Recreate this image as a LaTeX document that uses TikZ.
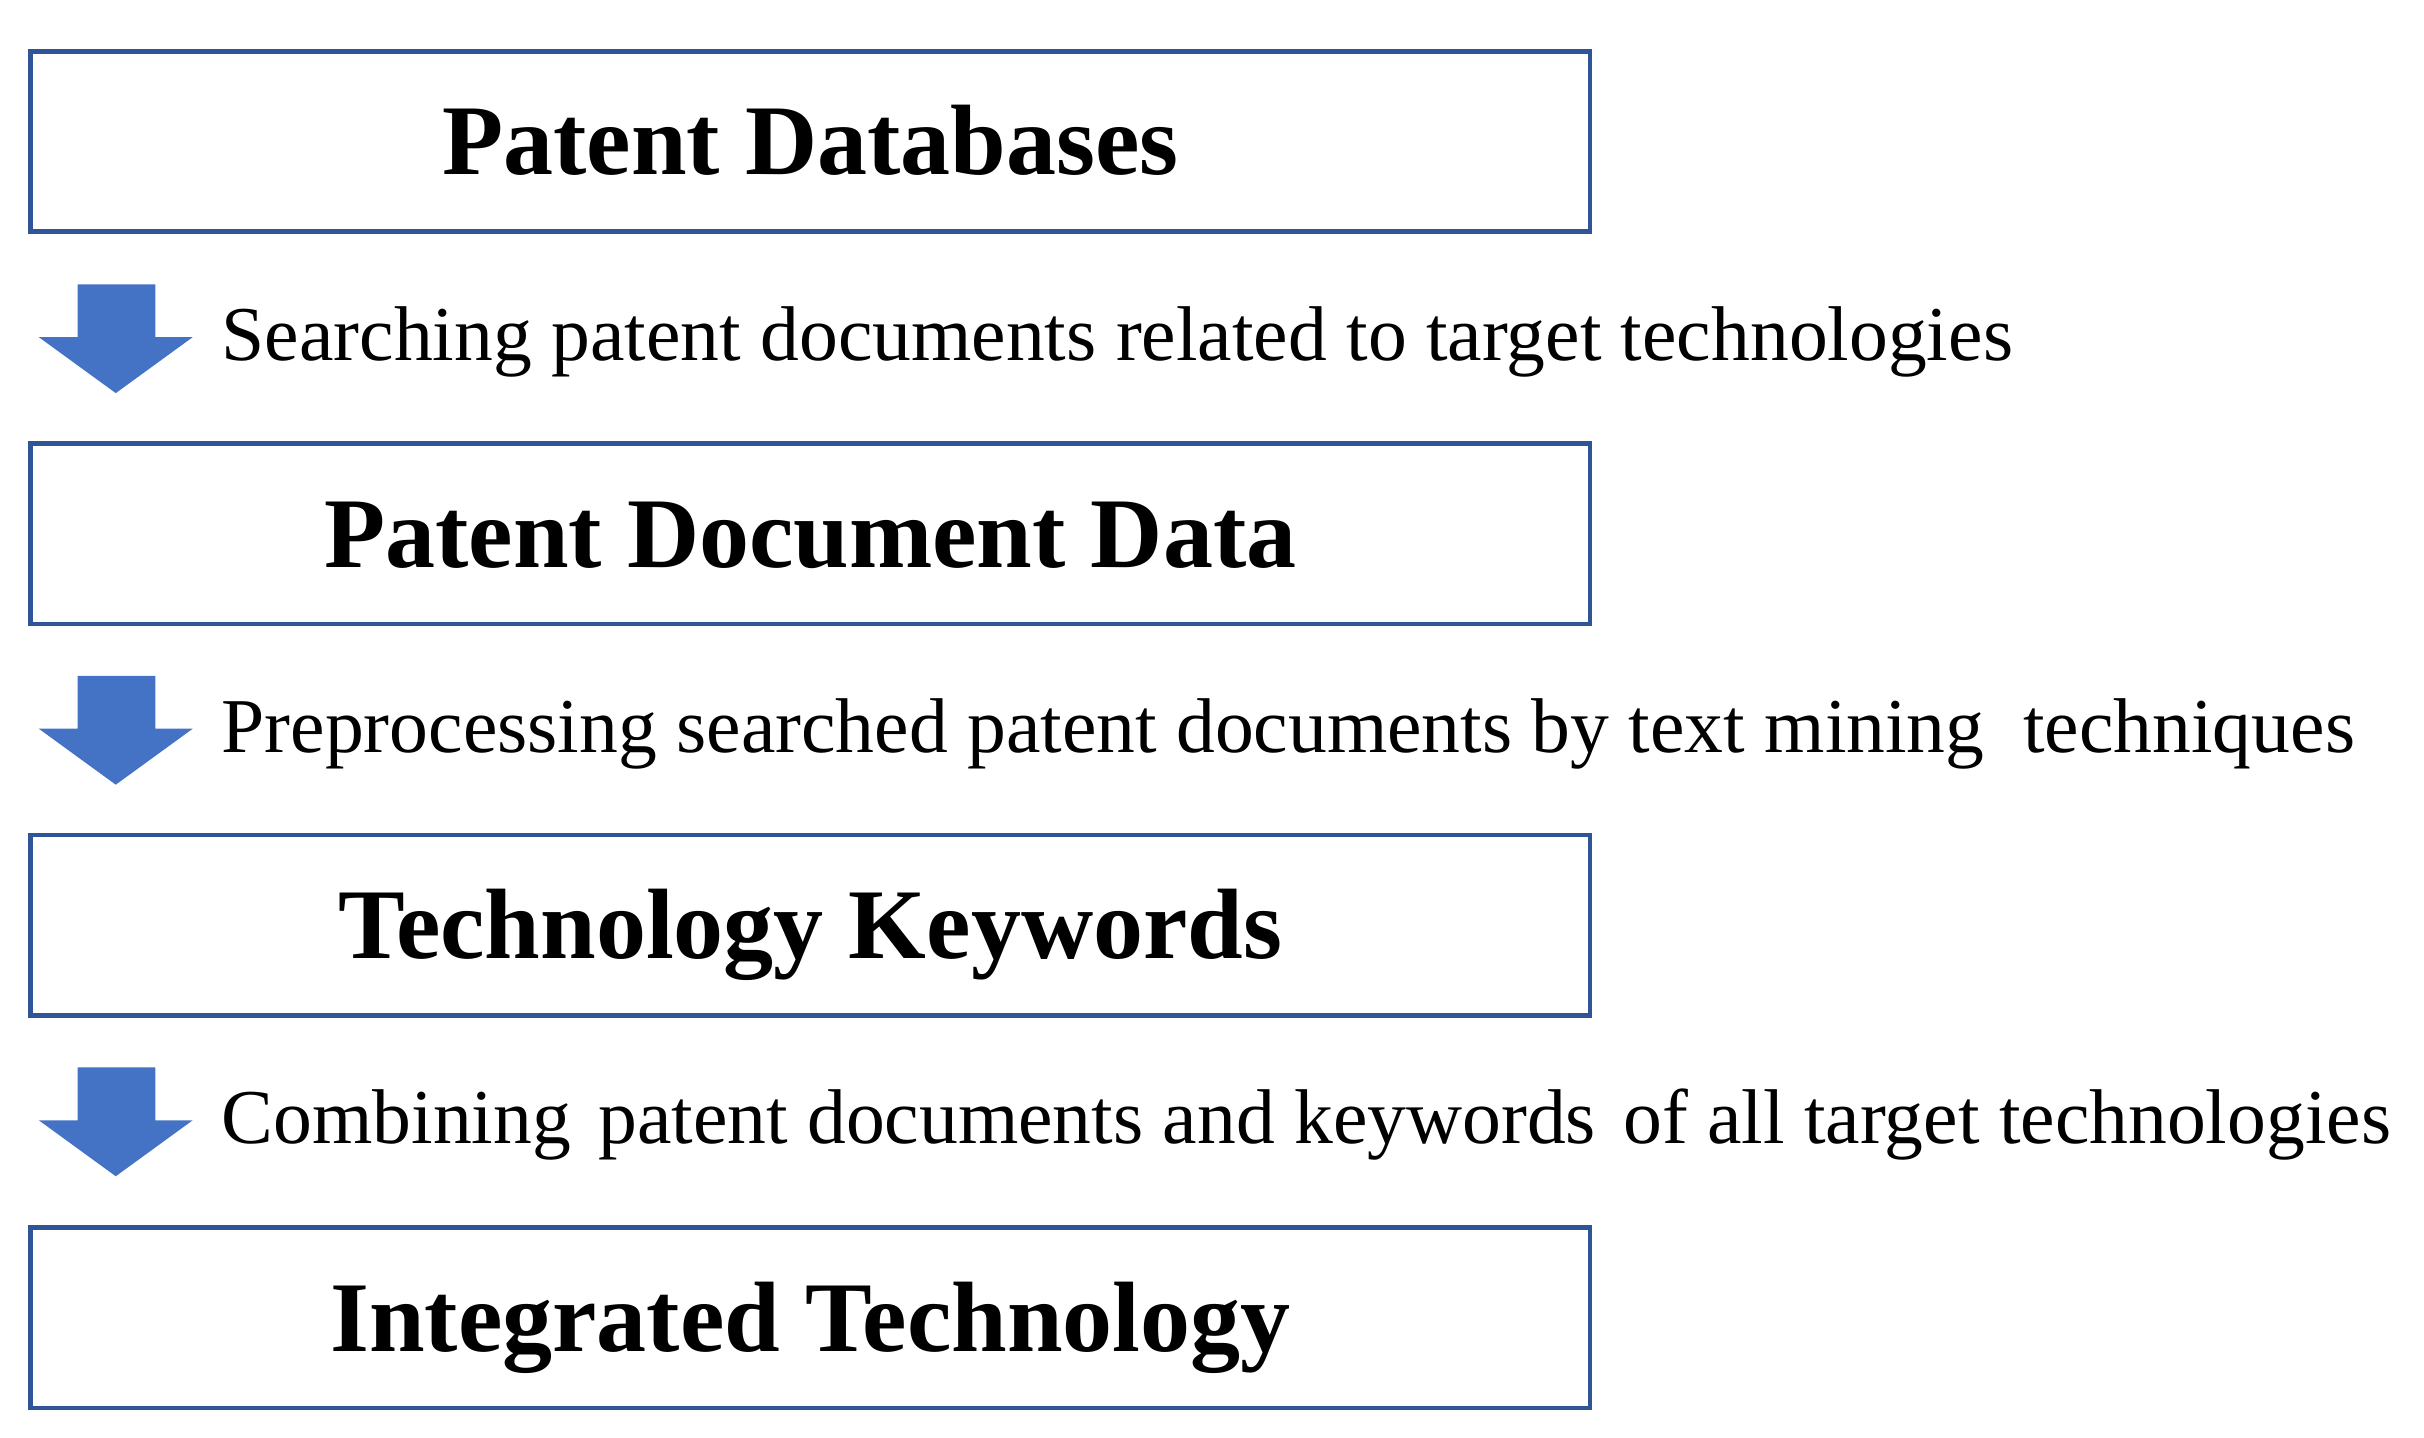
\documentclass[tikz,border=0pt]{standalone}
\usepackage{fontspec}
\setmainfont{Liberation Serif}
\usepackage{xcolor}
\usepackage{tikz}

\definecolor{boxblue}{HTML}{2F5597}
\definecolor{arrowblue}{HTML}{4472C4}
\tikzset{
	stagebox/.style={draw=boxblue, line width=0.85pt, minimum width=10.03cm, minimum height=1.16cm,
		inner sep=0pt, text height=12.3pt, text depth=0pt, font=\fontsize{18.3}{22}\selectfont\bfseries},
	steptext/.style={anchor=base west, inner sep=0pt, font=\fontsize{14.2}{17}\selectfont},
	downarrow/.style={fill=arrowblue}
}

\begin{document}
\begin{tikzpicture}[x=0.01cm, y=-0.01cm]
					\useasboundingbox (0,0) rectangle (1560,925);
					\node[stagebox] (databases) at (521.5,91) {Patent Databases};
					\node[stagebox] (docdata) at (521.5,343.5) {Patent Document Data};
					\node[stagebox] (keywords) at (521.5,595.5) {Technology Keywords};
					\node[stagebox] (integrated) at (521.5,848) {Integrated Technology};
					\fill[downarrow] (50,183) -- (100,183) -- (100,217) -- (124,217) -- (74.5,253) -- (25,217) -- (50,217) -- cycle;
					\fill[downarrow] (50,435) -- (100,435) -- (100,469) -- (124,469) -- (74.5,505) -- (25,469) -- (50,469) -- cycle;
					\fill[downarrow] (50,687) -- (100,687) -- (100,721) -- (124,721) -- (74.5,757) -- (25,721) -- (50,721) -- cycle;
					\node[steptext] (search) at (142,232) {Searching patent documents related to target technologies};
					\node[steptext] (preproc) at (142,484) {Preprocessing searched patent documents by text mining\ \ techniques};
					\node[steptext] (combine) at (142,736) {Combining\hspace{5pt}patent documents and keywords\hspace{5pt}of all target technologies};
				\end{tikzpicture}
\end{document}
